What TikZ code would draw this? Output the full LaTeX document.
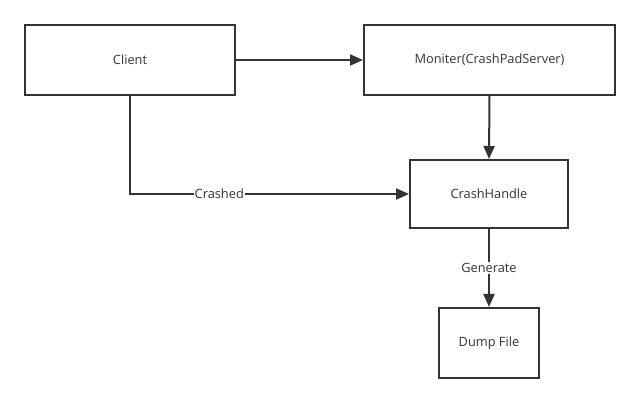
\documentclass[tikz,border=0pt]{standalone}
\usepackage{fontspec}
\setmainfont{Open Sans}
\usetikzlibrary{arrows.meta}
\definecolor{ink}{HTML}{333333}
\begin{document}
\begin{tikzpicture}[x=1pt,y=-1pt,
  box/.style={draw=ink,line width=2pt,fill=white,text=ink,font=\fontsize{12.8}{14}\selectfont},
  conn/.style={draw=ink,line width=2pt,-{Triangle[length=13pt,width=11pt]}},
  lbl/.style={fill=white,text=ink,inner sep=1pt,font=\fontsize{12.8}{14}\selectfont}]
\useasboundingbox[fill=white] (0,0) rectangle (640,403);
\node[box,minimum width=210pt,minimum height=70pt] (client) at (130,60) {Client};
\node[box,minimum width=251pt,minimum height=70pt] (mon) at (489.5,60) {Moniter(CrashPadServer)};
\node[box,minimum width=158pt,minimum height=68pt] (ch) at (489,194) {CrashHandle};
\node[box,minimum width=100pt,minimum height=70pt] (dump) at (489,343) {Dump File};
\draw[conn] (client.east) -- (mon.west);
\draw[conn] (mon.south) -- (ch.north);
\draw[conn] (client.south) |- node[lbl,pos=0.66] {Crashed} (ch.west);
\draw[conn] (ch.south) -- node[lbl] {Generate} (dump.north);
\end{tikzpicture}
\end{document}
